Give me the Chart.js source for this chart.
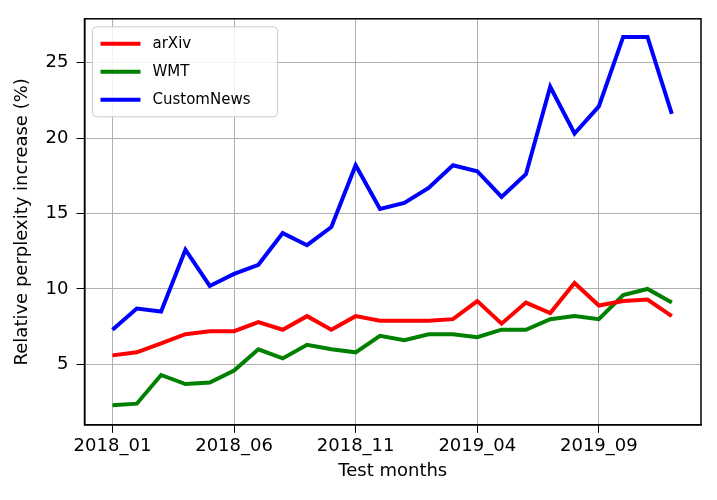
<!DOCTYPE html>
<html><head><script src="https://cdn.jsdelivr.net/npm/chart.js@4"></script>
<style>body{margin:0;background:#fff}#w{width:717px;height:500px}</style></head>
<body><div id="w"><canvas id="c"></canvas></div>
<script>
const months = [];
for (let y of [2018, 2019]) for (let m = 1; m <= 12; m++) months.push(y + '_' + String(m).padStart(2, '0'));
const arxiv = [5.6,5.8,6.4,7.0,7.2,7.2,7.8,7.3,8.2,7.3,8.2,7.9,7.9,7.9,8.0,9.2,7.7,9.1,8.4,10.4,8.9,9.2,9.3,8.2];
const wmt = [2.3,2.4,4.3,3.7,3.8,4.6,6.0,5.4,6.3,6.0,5.8,6.9,6.6,7.0,7.0,6.8,7.3,7.3,8.0,8.2,8.0,9.6,10.0,9.1];
const custom = [7.3,8.7,8.5,12.6,10.2,11.0,11.6,13.7,12.9,14.1,18.2,15.3,15.7,16.7,18.2,17.8,16.1,17.6,23.4,20.3,22.1,26.7,26.7,21.6];
const xTicks = [0,5,10,15,20];

const pts = a => a.map((v,i) => ({x:i, y:v}));
const ds = (label, data, color) => ({label, data: pts(data), borderColor: color, backgroundColor: color, borderWidth: 4, pointRadius: 0, tension: 0});

// frame around plot + legend box inside the plot
const extras = {
  id: 'extras',
  afterDatasetsDraw(chart) {
    const {ctx, chartArea: a} = chart;
    ctx.save();
    ctx.strokeStyle = '#000'; ctx.lineWidth = 1.5;
    ctx.strokeRect(a.left, a.top, a.right - a.left, a.bottom - a.top);
    const x0 = a.left + 8, y0 = a.top + 8, w = 185, h = 90;
    ctx.fillStyle = 'rgba(255,255,255,0.85)';
    ctx.strokeStyle = '#ccc'; ctx.lineWidth = 1;
    ctx.beginPath(); ctx.roundRect(x0, y0, w, h, 4); ctx.fill(); ctx.stroke();
    ctx.font = '15px "DejaVu Sans"'; ctx.textBaseline = 'middle';
    chart.data.datasets.forEach((d, i) => {
      const y = y0 + 17 + i * 28;
      ctx.strokeStyle = d.borderColor; ctx.lineWidth = 4;
      ctx.beginPath(); ctx.moveTo(x0 + 8, y); ctx.lineTo(x0 + 48, y); ctx.stroke();
      ctx.fillStyle = '#000'; ctx.fillText(d.label, x0 + 60, y);
    });
    ctx.restore();
  }
};

new Chart(document.getElementById('c'), {
  type: 'line',
  data: { datasets: [ds('arXiv', arxiv, '#ff0000'), ds('WMT', wmt, '#008000'), ds('CustomNews', custom, '#0000ff')] },
  options: {
    responsive: true, maintainAspectRatio: false, animation: false,
    layout: {padding: {top: 16, right: 16, bottom: 18, left: 8}},
    plugins: { legend: {display: false}, tooltip: {enabled: false} },
    scales: {
      x: {type: 'linear', min: -1.15, max: 24.2,
        afterBuildTicks: s => { s.ticks = xTicks.map(v => ({value: v})); },
        ticks: {callback: v => months[v], color: '#000', font: {family: 'DejaVu Sans', size: 18}, maxRotation: 0},
        grid: {color: '#b0b0b0', tickColor: '#000'}, border: {color: '#000', width: 1.5},
        title: {display: true, text: 'Test months', color: '#000', font: {family: 'DejaVu Sans', size: 18}, padding: 0}},
      y: {min: 1.0, max: 27.9,
        afterBuildTicks: s => { s.ticks = [5,10,15,20,25].map(v => ({value: v})); },
        ticks: {color: '#000', font: {family: 'DejaVu Sans', size: 18}, padding: 8},
        grid: {color: '#b0b0b0', tickColor: '#000'}, border: {color: '#000', width: 1.5},
        title: {display: true, text: 'Relative perplexity increase (%)', color: '#000', font: {family: 'DejaVu Sans', size: 18}}}
    }
  },
  plugins: [extras]
});
</script></body></html>
